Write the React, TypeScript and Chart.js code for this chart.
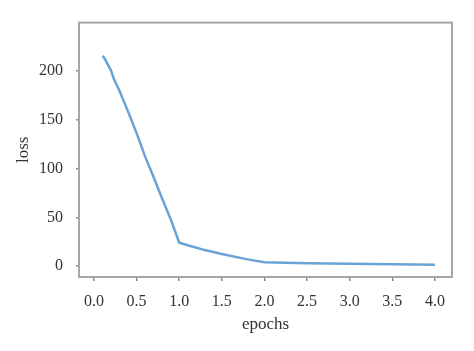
import React, { useEffect, useRef } from "react";
import { Chart, registerables } from "chart.js";

Chart.register(...registerables);

const epochs = [0.1, 0.12, 0.2, 0.23, 0.3, 0.4, 0.5, 0.6, 0.7, 0.8, 0.9, 1.0, 1.1, 1.3, 1.5, 1.8, 2.0, 2.5, 3.0, 3.5, 4.0];
const loss = [215, 213, 200, 192, 179, 158, 136, 112, 91, 69, 48, 24, 21.5, 16.5, 12.5, 7, 4, 3, 2.5, 2, 1.5];
const xTicks = [0, 0.5, 1, 1.5, 2, 2.5, 3, 3.5, 4];
const yTicks = [0, 50, 100, 150, 200];

const FONT = "'Liberation Serif', 'DejaVu Serif', serif";

const framePlugin = {
  id: "frame",
  afterDraw(chart: any) {
    const { ctx, chartArea } = chart;
    ctx.save();
    ctx.strokeStyle = "#a6a6a6";
    ctx.lineWidth = 2;
    ctx.strokeRect(chartArea.left, chartArea.top, chartArea.right - chartArea.left, chartArea.bottom - chartArea.top);
    ctx.restore();
  },
};

export default function App() {
  const ref = useRef<HTMLCanvasElement>(null);
  useEffect(() => {
    document.body.style.margin = "0";
    const chart = new Chart(ref.current!, {
      type: "line",
      data: {
        datasets: [
          {
            data: epochs.map((x, i) => ({ x, y: loss[i] })),
            borderColor: "#6aa3d6",
            borderWidth: 2.5,
            pointRadius: 0,
            tension: 0,
            fill: false,
          },
        ],
      },
      options: {
        animation: false,
        responsive: false,
        layout: { padding: { top: 21, right: 22, left: 0, bottom: 0 } },
        plugins: { legend: { display: false }, tooltip: { enabled: false } },
        scales: {
          x: {
            type: "linear",
            min: -0.176,
            max: 4.2,
            afterBuildTicks: (axis: any) => {
              axis.ticks = xTicks.map((v) => ({ value: v }));
            },
            afterFit: (axis: any) => {
              axis.height = 74;
            },
            grid: { drawOnChartArea: false, drawTicks: true, tickLength: 4, color: "#8a8a8a", lineWidth: 1.5 },
            border: { display: false },
            ticks: {
              padding: 11,
              color: "#333",
              font: { family: FONT, size: 16 },
              callback: (v: any) => Number(v).toFixed(1),
              maxRotation: 0,
              autoSkip: false,
            },
            title: {
              display: true,
              text: "epochs",
              color: "#333",
              font: { family: FONT, size: 17 },
              padding: { top: 0, bottom: 16 },
            },
          },
          y: {
            type: "linear",
            min: -11,
            max: 249,
            afterBuildTicks: (axis: any) => {
              axis.ticks = yTicks.map((v) => ({ value: v }));
            },
            afterFit: (axis: any) => {
              axis.width = 79;
            },
            grid: { drawOnChartArea: false, drawTicks: true, tickLength: 3, color: "#8a8a8a", lineWidth: 1.5 },
            border: { display: false },
            ticks: {
              padding: 13,
              color: "#333",
              font: { family: FONT, size: 16 },
              autoSkip: false,
            },
            title: {
              display: true,
              text: "loss",
              color: "#333",
              font: { family: FONT, size: 17 },
              padding: { top: 13, bottom: 0 },
            },
          },
        },
      },
      plugins: [framePlugin],
    });
    return () => chart.destroy();
  }, []);
  return (
    <div style={{ position: "fixed", left: 0, top: 0, width: 474, height: 351, background: "#fff" }}>
      <canvas ref={ref} width={474} height={351} style={{ width: 474, height: 351, display: "block" }} />
    </div>
  );
}
